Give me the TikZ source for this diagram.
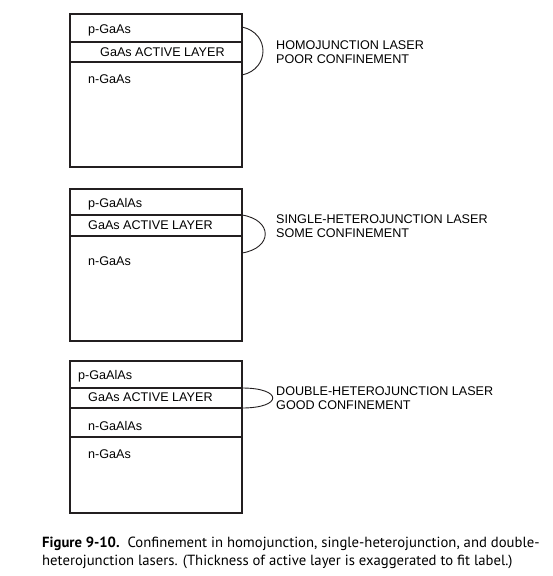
\documentclass[tikz,border=0pt]{standalone}
\usepackage{fontspec}
\setmainfont{Liberation Sans}
\newfontfamily\capfont{PT Sans}
\definecolor{ink}{HTML}{231F20}
\begin{document}
\begin{tikzpicture}[x=1pt,y=-1pt,
  box/.style={draw=ink, line width=2.2pt, rectangle, inner sep=0pt, minimum width=172pt},
  divider/.style={draw=ink, line width=2.2pt},
  bracket/.style={draw=ink, line width=0.9pt},
  lbl/.style={anchor=west, inner sep=0pt, font=\fontsize{12.6}{14}\selectfont},
  side/.style={anchor=west, inner sep=0pt, align=left, font=\fontsize{12.6}{14}\selectfont},
  captext/.style={anchor=west, inner sep=0pt, font=\capfont\fontsize{14.7}{17}\selectfont}]
\useasboundingbox (0,0) rectangle (553,576);
\fill[white] (0,0) rectangle (553,576);

% Box 1 : homojunction
\node[box, minimum height=153pt] (b1) at (156,90.5) {};
\coordinate (d1a) at (70,42);  \coordinate (d1b) at (242,42);
\coordinate (d1c) at (70,62);  \coordinate (d1d) at (242,62);
\draw[divider] (d1a) -- (d1b);
\draw[divider] (d1c) -- (d1d);
\node[lbl] (t1a) at (88,30) {p-GaAs};
\node[lbl] (t1b) at (100,52.5) {GaAs ACTIVE LAYER};
\node[lbl] (t1c) at (88,79) {n-GaAs};
\coordinate (c1s) at (242,27); \coordinate (c1e) at (242,75);
\draw[bracket] (c1s) .. controls +(28,6) and +(28,-6) .. (c1e);
\node[side] (s1) at (276,52) {HOMOJUNCTION LASER\\POOR CONFINEMENT};

% Box 2 : single heterojunction
\node[box, minimum height=152pt] (b2) at (156,265) {};
\coordinate (d2a) at (70,215);  \coordinate (d2b) at (242,215);
\coordinate (d2c) at (70,236);  \coordinate (d2d) at (242,236);
\draw[divider] (d2a) -- (d2b);
\draw[divider] (d2c) -- (d2d);
\node[lbl] (t2a) at (88,204) {p-GaAlAs};
\node[lbl] (t2b) at (88,225.5) {GaAs ACTIVE LAYER};
\node[lbl] (t2c) at (88,261.5) {n-GaAs};
\coordinate (c2s) at (242,215); \coordinate (c2e) at (242,253);
\draw[bracket] (c2s) .. controls +(31,5) and +(31,-5) .. (c2e);
\node[side] (s2) at (276,226.5) {SINGLE-HETEROJUNCTION LASER\\SOME CONFINEMENT};

% Box 3 : double heterojunction
\node[box, minimum height=152pt] (b3) at (156,437) {};
\coordinate (d3a) at (70,388);  \coordinate (d3b) at (242,388);
\coordinate (d3c) at (70,408);  \coordinate (d3d) at (242,408);
\coordinate (d3e) at (70,437);  \coordinate (d3f) at (242,437);
\draw[divider] (d3a) -- (d3b);
\draw[divider] (d3c) -- (d3d);
\draw[divider] (d3e) -- (d3f);
\node[lbl] (t3a) at (78,376.5) {p-GaAlAs};
\node[lbl] (t3b) at (88,397.5) {GaAs ACTIVE LAYER};
\node[lbl] (t3c) at (88,425.5) {n-GaAlAs};
\node[lbl] (t3d) at (88,454) {n-GaAs};
\coordinate (c3s) at (242,388); \coordinate (c3e) at (242,408);
\draw[bracket] (c3s) .. controls +(41,0) and +(41,0) .. (c3e);
\node[side] (s3) at (276,398.5) {DOUBLE-HETEROJUNCTION LASER\\GOOD CONFINEMENT};

% Caption
\node[captext] (cap1) at (42,544) {\textbf{Figure 9-10.}\ \ Confinement in homojunction, single-heterojunction, and double-};
\node[captext] (cap2) at (42,562) {heterojunction lasers. (Thickness of active layer is exaggerated to fit label.)};
\end{tikzpicture}
\end{document}
